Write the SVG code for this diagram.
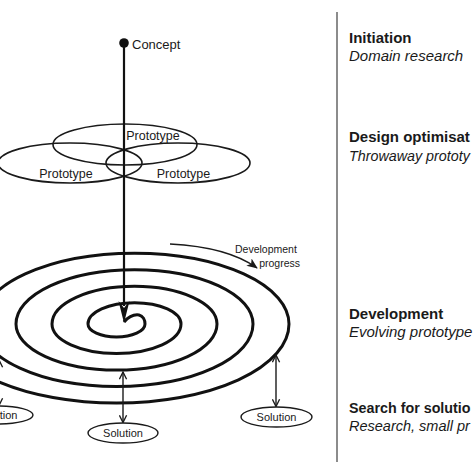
<svg xmlns="http://www.w3.org/2000/svg" width="474" height="474" viewBox="0 0 474 474">
<style>
.lbl{font-family:"Liberation Sans",Arial,sans-serif;fill:#1a1a1a}
.proto{fill:none;stroke:#1a1a1a;stroke-width:1.6}
.sol{fill:none;stroke:#1a1a1a;stroke-width:1.4}
.head{font-family:"Liberation Sans",Arial,sans-serif;font-size:15px;font-weight:bold;fill:#1a1a1a}
.sub{font-family:"Liberation Sans",Arial,sans-serif;font-size:15px;font-style:italic;fill:#1a1a1a}
.dbl{fill:none;stroke:#1a1a1a;stroke-width:1.4;marker-start:url(#open);marker-end:url(#open)}
</style>
<defs>
<marker id="open" viewBox="0 0 10 10" refX="9" refY="5" markerWidth="9" markerHeight="9" markerUnits="userSpaceOnUse" orient="auto-start-reverse">
<path d="M1,1 L9,5 L1,9" fill="none" stroke="#1a1a1a" stroke-width="1.5"/>
</marker>
<marker id="barb" viewBox="0 0 12 10" refX="11" refY="5" markerWidth="11" markerHeight="9" markerUnits="userSpaceOnUse" orient="auto">
<path d="M0,0 L12,5 L0,10 L3,5 Z" fill="#1a1a1a"/>
</marker>
</defs>
<rect width="474" height="474" fill="#ffffff"/>

<g id="phase-divider">
<line x1="337" y1="12" x2="337" y2="462" stroke="#666" stroke-width="1.5"/>
</g>

<g id="phases">
<text class="head" x="349" y="43">Initiation</text>
<text class="sub" x="349" y="61">Domain research</text>
<text class="head" x="349" y="142">Design optimisat</text>
<text class="sub" x="349" y="161" style="font-size:14.3px">Throwaway prototy</text>
<text class="head" x="349" y="319">Development</text>
<text class="sub" x="349" y="337">Evolving prototype</text>
<text class="head" x="349" y="413" style="font-size:14.3px">Search for solutio</text>
<text class="sub" x="349" y="431" style="font-size:14.5px">Research, small pr</text>
</g>

<g id="spiral">
<path d="M124,322 C127,318 133,314 139,315 C143,316 145,320 145,324 A28.5,13.05 0 0 1 88,324 A46.5,21.3 0 0 1 181,324 A64.5,29.5 0 0 1 52,324 A82.5,37.8 0 0 1 217,324 A100.5,46 0 0 1 16,324 A118.5,54.3 0 0 1 253,324 A136.5,62.5 0 0 1 -20,324 A154.5,70.8 0 0 1 289,324 A172.5,79 0 0 1 -56,324" fill="none" stroke="#111" stroke-width="3"/>
</g>

<g id="concept">
<circle cx="124" cy="43" r="4.8" fill="#111"/>
<text class="lbl" x="132" y="49" font-size="13">Concept</text>
</g>

<g id="prototype-top">
<ellipse class="proto" cx="125" cy="144.5" rx="72" ry="20.5"/>
<text class="lbl" x="153" y="139.5" font-size="12.5" text-anchor="middle">Prototype</text>
</g>
<g id="prototype-left">
<ellipse class="proto" cx="70" cy="163" rx="72" ry="20"/>
<text class="lbl" x="66" y="178" font-size="12.5" text-anchor="middle">Prototype</text>
</g>
<g id="prototype-right">
<ellipse class="proto" cx="178" cy="163" rx="72" ry="20"/>
<text class="lbl" x="183.5" y="178" font-size="12.5" text-anchor="middle">Prototype</text>
</g>

<g id="solution-left">
<ellipse class="sol" cx="-2" cy="415" rx="35" ry="9"/>
<text class="lbl" x="17.5" y="419" font-size="11" text-anchor="end">tion</text>
</g>
<g id="solution-middle">
<ellipse class="sol" cx="123" cy="433" rx="35" ry="10"/>
<text class="lbl" x="123" y="437" font-size="11" text-anchor="middle">Solution</text>
</g>
<g id="solution-right">
<ellipse class="sol" cx="276.5" cy="417" rx="35.5" ry="10"/>
<text class="lbl" x="276.5" y="421" font-size="11" text-anchor="middle">Solution</text>
</g>

<g id="progress-label">
<text class="lbl" x="235" y="253" font-size="10.5">Development</text>
<text class="lbl" x="300" y="267" font-size="10.5" text-anchor="end">progress</text>
</g>

<g id="connectors">
<line x1="124" y1="43" x2="124" y2="306" stroke="#111" stroke-width="2.2"/>
<path d="M124,323 L118.5,301 L124,308 L129.5,301 Z" fill="#111"/>
<path d="M170,244 Q228,247 257,268" fill="none" stroke="#1a1a1a" stroke-width="1.4" marker-end="url(#barb)"/>
<line class="dbl" x1="123" y1="372" x2="123" y2="422.5"/>
<line class="dbl" x1="276" y1="355" x2="276" y2="406.5"/>
<line class="dbl" x1="-1" y1="360" x2="-1" y2="405.5"/>
</g>
</svg>
